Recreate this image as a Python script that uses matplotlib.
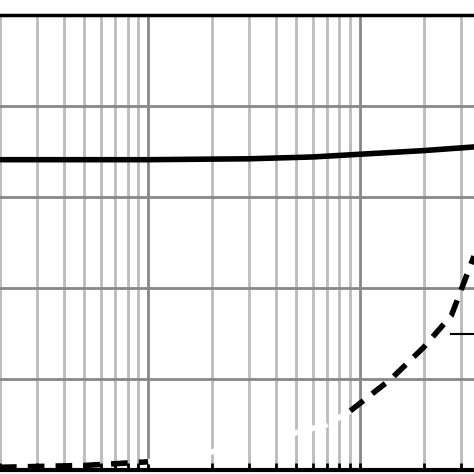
import numpy as np
import matplotlib
matplotlib.use("Agg")
import matplotlib.pyplot as plt

# data (x in log units, y in grid units)
solid_x = [0.2, 1, 3, 6, 10, 20, 34.5]
solid_y = [3.41, 3.41, 3.42, 3.44, 3.47, 3.51, 3.55]
dash_black1_x = [0.2, 0.5, 1.0]
dash_black1_y = [0.03, 0.05, 0.09]
dash_white_x = [1.0, 2.0, 4.0, 7.0, 9.0]
dash_white_y = [0.09, 0.2, 0.35, 0.5, 0.65]
dash_black2_x = [9.0, 14, 20, 27, 34.5]
dash_black2_y = [0.65, 1.0, 1.35, 1.7, 2.35]
ref_x = [27, 34.5]
ref_y = [1.5, 1.5]

fig = plt.figure(figsize=(4.74, 4.74), dpi=100)
ax = fig.add_axes([0, 4/474, 1, 455/474])
ax.set_xscale('log')
ax.set_xlim(0.2, 34.5)
ax.set_ylim(0, 5)
for d in [1, 10]:
    ax.axvline(d, color='#888888', lw=2, zorder=1)
for dec in [0.1, 1, 10]:
    for m in range(2, 10):
        v = dec * m
        if 0.2 <= v <= 34.5:
            ax.axvline(v, color='#bbbbbb', lw=2, zorder=1)
for yv in [1, 2, 3, 4]:
    ax.axhline(yv, color='#888888', lw=2, zorder=1)
ax.plot(solid_x, solid_y, color='black', lw=4, zorder=3)
ax.plot(dash_black1_x, dash_black1_y, color='black', lw=4, ls=(0, (3, 2)), zorder=3)
ax.plot(dash_white_x, dash_white_y, color='white', lw=4, ls=(0, (3, 2)), zorder=3)
ax.plot(dash_black2_x, dash_black2_y, color='black', lw=4, ls=(0, (3, 2)), zorder=3)
ax.plot(ref_x, ref_y, color='black', lw=1.5, zorder=3)
for s in ['left', 'right']:
    ax.spines[s].set_visible(False)
ax.spines['top'].set_linewidth(2.5)
ax.spines['bottom'].set_linewidth(3)
ax.tick_params(which='both', direction='in', labelbottom=False, labelleft=False, left=False, length=5, width=2)
ax.yaxis.set_ticks([])
fig.savefig('out.png', dpi=100)
